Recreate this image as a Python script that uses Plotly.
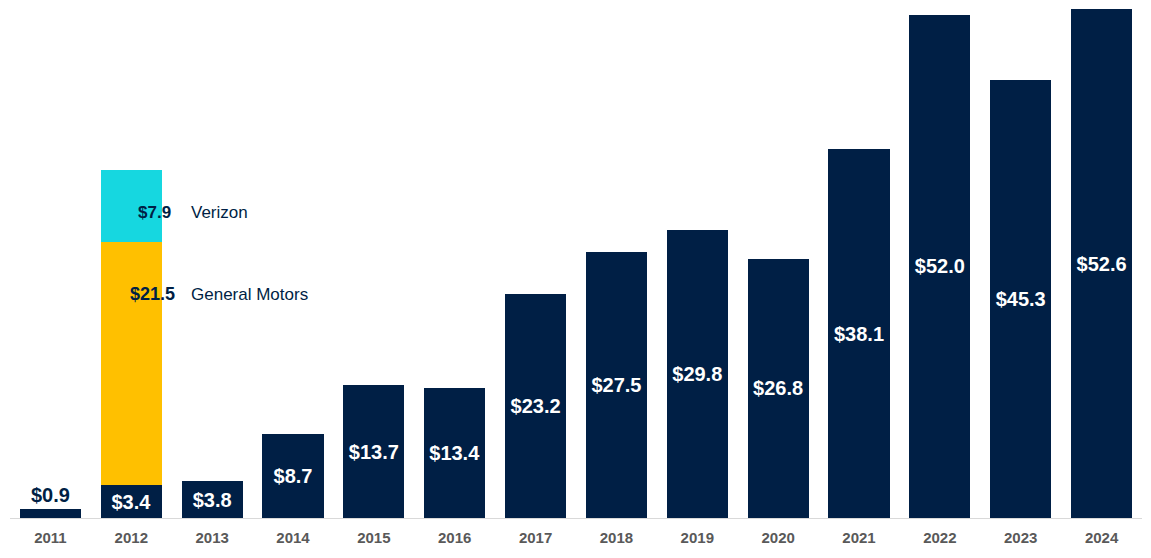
import plotly.graph_objects as go

years = ["2011", "2012", "2013", "2014", "2015", "2016", "2017", "2018",
         "2019", "2020", "2021", "2022", "2023", "2024"]
base_values = [0.9, 3.4, 3.8, 8.7, 13.7, 13.4, 23.2, 27.5, 29.8, 26.8, 38.1, 52.0, 45.3, 52.6]

# 2012 one-off items (labelled values, and drawn heights)
gm_label = 21.5
gm_drawn = 25.1
verizon_label = 7.9
verizon_drawn = 7.5

NAVY = "#001F45"
GOLD = "#FFC000"
CYAN = "#16D7E0"
FONT = "Liberation Sans"

base_text = [f"${v:.1f}" for v in base_values]
positions = ["outside" if v < 2 else "inside" for v in base_values]

fig = go.Figure()
fig.add_trace(go.Bar(
    x=years, y=base_values, marker_color=NAVY, marker_line_width=0,
    text=base_text, textposition=positions, insidetextanchor="middle",
    textangle=0,
    insidetextfont=dict(family=FONT, size=20, color="white", weight="bold"),
    outsidetextfont=dict(family=FONT, size=20, color=NAVY, weight="bold"),
    cliponaxis=False, hoverinfo="skip", showlegend=False,
))
fig.add_trace(go.Bar(
    x=["2012"], y=[gm_drawn], marker_color=GOLD, marker_line_width=0,
    hoverinfo="skip", showlegend=False,
))
fig.add_trace(go.Bar(
    x=["2012"], y=[verizon_drawn], marker_color=CYAN, marker_line_width=0,
    hoverinfo="skip", showlegend=False,
))

idx_2012 = years.index("2012")
top_2012 = base_values[idx_2012] + gm_drawn + verizon_drawn
ann = []
for label, name, yv, xs, fs in [(verizon_label, "Verizon", top_2012 - 4.4, 42, 17),
                                (gm_label, "General Motors", top_2012 - 12.9, 46, 18)]:
    ann.append(dict(x=idx_2012, y=yv, xref="x", yref="y", text=f"<b>${label:.1f}</b>",
                    showarrow=False, xanchor="right", xshift=xs,
                    font=dict(family=FONT, size=fs, color=NAVY)))
    ann.append(dict(x=idx_2012, y=yv, xref="x", yref="y", text=name,
                    showarrow=False, xanchor="left", xshift=58,
                    font=dict(family=FONT, size=17, color=NAVY)))

fig.update_layout(
    width=1143, height=550,
    margin=dict(l=2, r=9, t=1, b=40),
    barmode="stack", bargap=0.245,
    plot_bgcolor="white", paper_bgcolor="white",
    annotations=ann,
    xaxis=dict(type="category", categoryorder="array", categoryarray=years,
               range=[-0.5, len(years) - 0.5],
               showgrid=False, showline=True, linecolor="#D9D9D9",
               linewidth=1, ticks="", fixedrange=True, ticklabelstandoff=6,
               tickfont=dict(family=FONT, size=15, color="#595959", weight="bold")),
    yaxis=dict(range=[0, 52.6], visible=False, showgrid=False, zeroline=False,
               fixedrange=True),
)

fig.write_html("out.html")
